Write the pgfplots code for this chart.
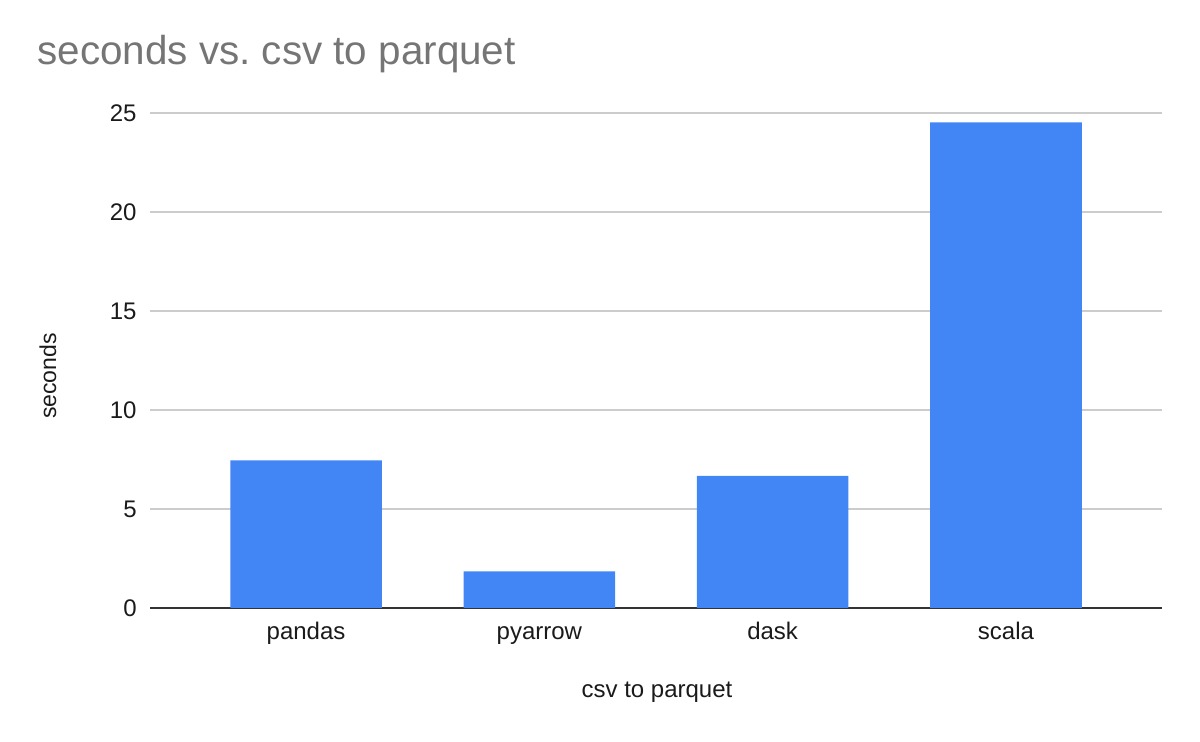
\documentclass[border=0pt]{standalone}
\usepackage{fontspec}
\setmainfont{Liberation Sans}
\usepackage{pgfplots}
\pgfplotsset{compat=1.18}
\definecolor{barblue}{HTML}{4285F4}
\definecolor{gridgray}{HTML}{CCCCCC}
\definecolor{axisdark}{HTML}{333333}
\definecolor{titlegray}{HTML}{757575}
\definecolor{labelblack}{HTML}{1A1A1A}
\frenchspacing
\begin{document}
\begin{tikzpicture}
\path[use as bounding box] (-75pt,-67pt) rectangle (525pt,304pt);
\begin{axis}[
        at={(0,0)}, anchor=south west,
        scale only axis, width=506pt, height=247.5pt,
        xmin=-0.669, xmax=3.669,
        ymin=0, ymax=25,
        ytick={0,5,10,15,20,25},
        xtick={0,1,2,3},
        xticklabels={pandas,pyarrow,dask,scala},
        ymajorgrids,
        grid style={draw=gridgray, line width=0.6pt},
        axis x line*=bottom,
        axis y line*=left,
        y axis line style={draw=none},
        x axis line style={draw=axisdark, line width=1pt, -},
        major tick length=0pt,
        tick label style={font=\fontsize{12}{14}\selectfont, text=labelblack},
        /pgf/number format/assume math mode=true,
        yticklabel style={inner sep=0pt, anchor=east, xshift=-6.5pt},
        xticklabel style={inner sep=0pt, anchor=base, yshift=-16pt},
]
\addplot [ybar, bar width=0.65, fill=barblue, draw=none]
        coordinates {(0,7.45) (1,1.85) (2,6.67) (3,24.52)};
\end{axis}
\node[anchor=base west, text=titlegray, font=\fontsize{20.2}{24}\selectfont, inner sep=0pt]
        at (-56.5pt,271.5pt) {seconds vs.\ csv to parquet};
\node[rotate=90, text=labelblack, font=\fontsize{11.5}{14}\selectfont]
        at (-51pt,116pt) {seconds};
\node[text=labelblack, font=\fontsize{12}{14}\selectfont]
        at (253.5pt,-42pt) {csv to parquet};
\end{tikzpicture}
\end{document}
